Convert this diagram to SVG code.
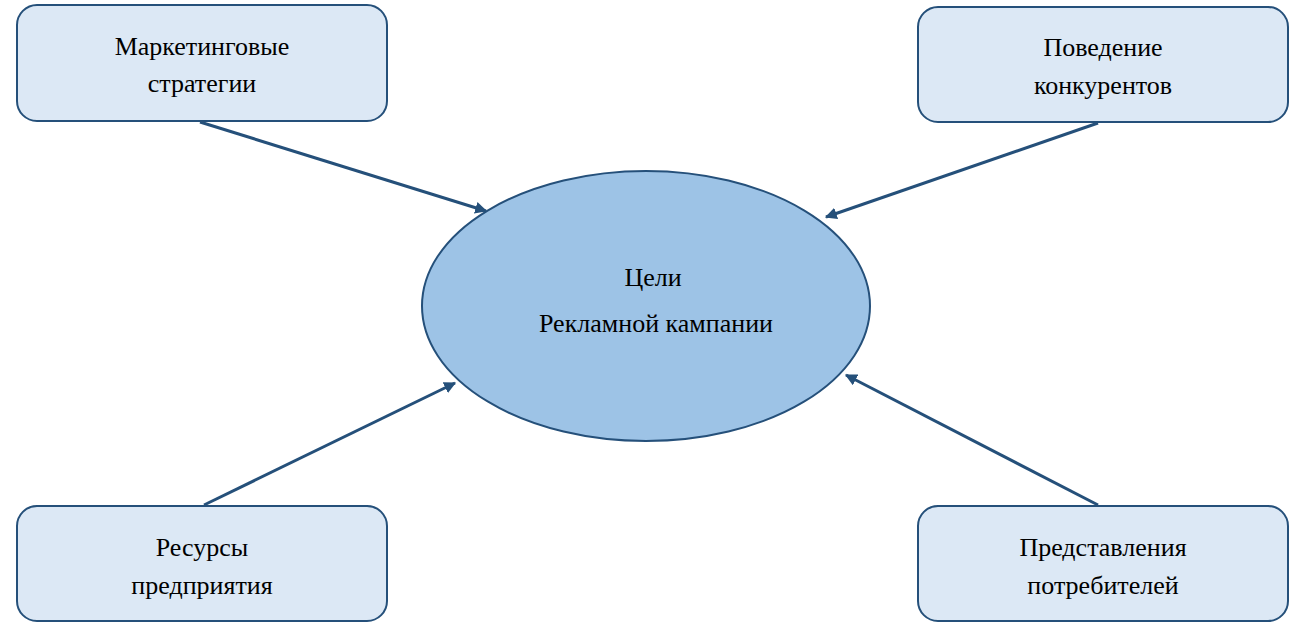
<svg xmlns="http://www.w3.org/2000/svg" width="1296" height="628" viewBox="0 0 1296 628">
<style>
.box{fill:#dce8f5;stroke:#25507a;stroke-width:2}
.t{font-family:"Liberation Serif",serif;font-size:26px;fill:#000;text-anchor:middle}
.c{stroke:#25507a;stroke-width:3;fill:none;marker-end:url(#a)}
</style>
<defs><marker id="a" viewBox="0 0 10 10" refX="9" refY="5" markerWidth="4" markerHeight="4" orient="auto"><path d="M0,0L10,5L0,10z" fill="#25507a"/></marker></defs>
<rect width="1296" height="628" fill="#fff"/>
<g id="n1"><rect class="box" x="17" y="5" width="370" height="116" rx="20"/><text class="t" x="202" y="55">Маркетинговые</text><text class="t" x="202" y="92">стратегии</text></g>
<g id="n2"><rect class="box" x="918" y="7" width="370" height="115" rx="20"/><text class="t" x="1103" y="56">Поведение</text><text class="t" x="1103" y="94">конкурентов</text></g>
<g id="n3"><rect class="box" x="17" y="506" width="370" height="115" rx="20"/><text class="t" x="202" y="556">Ресурсы</text><text class="t" x="202" y="594">предприятия</text></g>
<g id="n4"><rect class="box" x="918" y="506" width="370" height="115" rx="20"/><text class="t" x="1103" y="556">Представления</text><text class="t" x="1103" y="594">потребителей</text></g>
<g id="center"><ellipse cx="646" cy="306" rx="224" ry="135" fill="#9dc3e6" stroke="#25507a" stroke-width="2"/><text class="t" x="653" y="286" font-size="30">Цели</text><text class="t" x="656" y="332" font-size="30">Рекламной кампании</text></g>
<g id="connectors">
<line class="c" x1="200" y1="122" x2="486" y2="211"/>
<line class="c" x1="1098" y1="123" x2="826" y2="217"/>
<line class="c" x1="204" y1="505" x2="455" y2="383"/>
<line class="c" x1="1098" y1="505" x2="846" y2="375"/>
</g>
</svg>
